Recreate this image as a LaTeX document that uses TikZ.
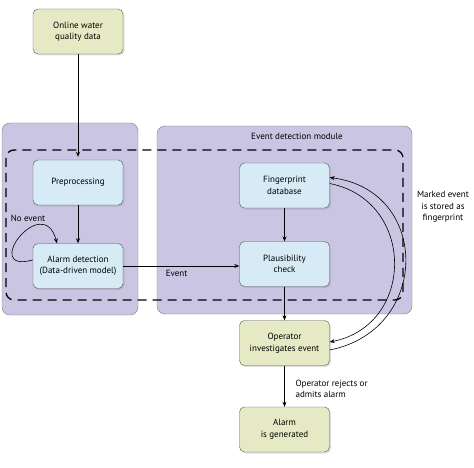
\documentclass[tikz,border=0pt]{standalone}
\usepackage{fontspec}
\setmainfont{PT Sans}
\usetikzlibrary{arrows.meta,shadows}
\definecolor{boxgreen}{RGB}{230,234,196}
\definecolor{boxblue}{RGB}{214,235,245}
\definecolor{panelviolet}{RGB}{201,197,227}
\definecolor{edgegray}{RGB}{85,85,85}
\begin{document}
\begin{tikzpicture}[x=1pt,y=-1pt,
    every node/.style={font=\fontsize{9}{11.5}\selectfont,align=center},
    box/.style={draw=edgegray,rounded corners=5pt,minimum width=90pt,minimum height=45pt,
      drop shadow={opacity=0.25,shadow xshift=1.5pt,shadow yshift=-1.5pt}},
    greenbox/.style={box,fill=boxgreen},
    bluebox/.style={box,fill=boxblue},
    panel/.style={draw=gray,fill=panelviolet,rounded corners=8pt},
    border/.style={line width=1.3pt,dash pattern=on 9pt off 6pt,rounded corners=8pt},
    arr/.style={-{Stealth[length=5pt,width=4pt]},semithick}]
    \useasboundingbox (0,0) rectangle (474,468);
    % module panels
    \draw[panel] (2,123) rectangle (138,315);
    \draw[panel] (157,126) rectangle (412,314);
    \node (edm) at (297,136) {Event detection module};
    \draw[border] (6,150) rectangle (403,300);
    % boxes
    \node[greenbox] (online) at (78,31.5) {Online water\\quality data};
    \node[bluebox] (prep) at (78,182.5) {Preprocessing};
    \node[bluebox] (alarmdet) at (78,266) {Alarm detection\\(Data-driven model)};
    \node[bluebox] (fp) at (284.5,185.5) {Fingerprint\\database};
    \node[bluebox] (plaus) at (284.5,264) {Plausibility\\check};
    \node[greenbox] (oper) at (284.5,343) {Operator\\investigates event};
    \node[greenbox] (alarm) at (284.5,429.5) {Alarm\\is generated};
    % texts
    \node (noev) at (28,218) {No event};
    \node (marklbl) at (443,207) {Marked event\\is stored as\\fingerprint};
    \node[anchor=west,align=left] (rejlbl) at (292,389) {Operator rejects or\\admits alarm};
    % connectors
    \draw[arr,shorten >=3pt] (online) -- (prep);
    \draw[arr] (prep) -- (alarmdet);
    \draw[arr] ([yshift=6pt]alarmdet.west) to[out=195,in=105,distance=55pt] ([xshift=-21pt]alarmdet.north);
    \draw[arr] (alarmdet.east) -- node[below,pos=0.46,yshift=-1pt] (evlbl) {Event} (alarmdet.east -| plaus.west);
    \draw[arr] (fp) -- (plaus);
    \draw[arr] (plaus) -- (oper);
    \draw[arr] ([yshift=-7pt]oper.east) .. controls +(101,-20) and +(101,13) .. ([yshift=8pt]fp.east);
    \draw[arr] ([yshift=2pt]fp.east) .. controls +(86,17) and +(86,-17) .. ([yshift=1pt]oper.east);
    \draw[arr] (oper) -- (alarm);
\end{tikzpicture}
\end{document}
